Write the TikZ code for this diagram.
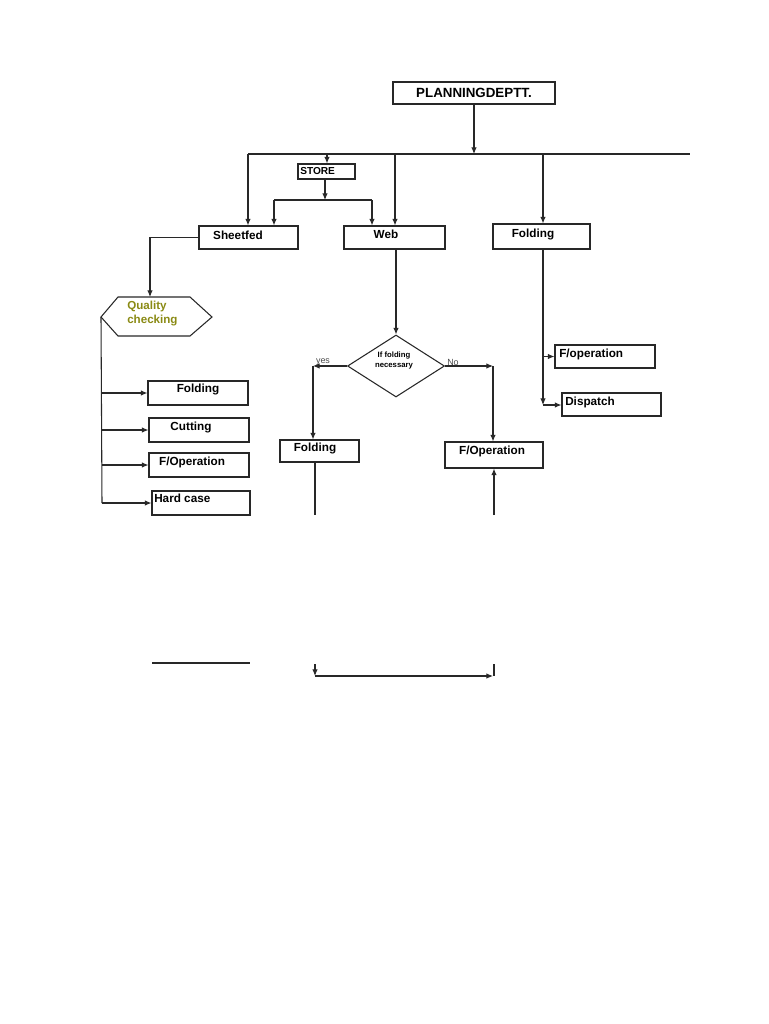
\documentclass[tikz,border=0pt]{standalone}
\usepackage{fontspec}
\setmainfont{Liberation Sans}
\usetikzlibrary{arrows.meta,shapes.geometric,calc}
\definecolor{qcolive}{RGB}{138,138,20}
\definecolor{ln}{RGB}{40,40,40}
\begin{document}
\begin{tikzpicture}[x=0.75pt,y=-0.75pt,
  bx/.style 2 args={draw=ln,line width=0.8pt,inner sep=0pt,minimum width=#1*0.75pt,minimum height=#2*0.75pt},
  lbl/.style={font=\fontsize{8.8}{10}\selectfont\bfseries,inner sep=0pt},
  arr/.style={draw=ln,line width=0.8pt,-{Latex[length=5pt,width=4.2pt]}},
  ln/.style={draw=ln,line width=0.8pt}]
\useasboundingbox (0,0) rectangle (768,1024);

% boxes
\node[bx={162}{22},font=\fontsize{10}{12}\selectfont\bfseries] (plan) at (474,93) {PLANNINGDEPTT.};
\node[bx={57}{15}] (store) at (326.5,171.5) {};
\node[lbl,anchor=west,font=\fontsize{7.6}{9}\selectfont\bfseries] (storeT) at (300,171.5) {STORE};
\node[bx={99}{23}] (sheet) at (248.5,237.5) {};
\node[lbl] (sheetT) at (238,235) {Sheetfed};
\node[bx={101}{23}] (web) at (394.5,237.5) {};
\node[lbl] (webT) at (386,234) {Web};
\node[bx={97}{25}] (fold) at (541.5,236.5) {};
\node[lbl] (foldT) at (533,234) {Folding};
\node[bx={100}{23}] (fopR) at (605,356.5) {};
\node[lbl,anchor=west] (fopRT) at (559,354) {F/operation};
\node[bx={99}{23}] (disp) at (611.5,404.5) {};
\node[lbl,anchor=west] (dispT) at (565,402) {Dispatch};

\node[bx={100}{24}] (foldL) at (198,393) {};
\node[lbl] (foldLT) at (198,389) {Folding};
\node[bx={100}{24}] (cut) at (199,430) {};
\node[lbl] (cutT) at (191,427) {Cutting};
\node[bx={100}{24}] (fopL) at (199,465) {};
\node[lbl] (fopLT) at (192,462) {F/Operation};
\node[bx={98}{24}] (hard) at (201,503) {};
\node[lbl,anchor=west] (hardT) at (154,498) {Hard case};

\node[bx={79}{22}] (foldM) at (319.5,451) {};
\node[lbl] (foldMT) at (315,448) {Folding};
\node[bx={98}{26}] (fopM) at (494,455) {};
\node[lbl] (fopMT) at (492,451) {F/Operation};

% hexagon
\coordinate (qcL) at (101,317);
\coordinate (qcT) at (150,297);
\draw[ln] (qcL) -- (118,297) -- (190,297) -- (212,317) -- (190,336) -- (118,336) -- cycle;
\node[lbl,anchor=west,align=left,text=qcolive,font=\fontsize{8.7}{9.8}\selectfont\bfseries] (qcT1) at (127,313.5) {Quality\\checking};

% diamond
\node[draw=ln,line width=0.8pt,diamond,minimum width=97*0.75pt,minimum height=62*0.75pt,inner sep=0pt] (dia) at (396,366) {};
\node[lbl,align=center,font=\fontsize{5.8}{7}\selectfont\bfseries] (diaT) at (394,360.5) {If folding\\necessary};
\node[inner sep=0pt,font=\fontsize{6.7}{8}\selectfont,text=black!70] (yesT) at (323,362) {yes};
\node[inner sep=0pt,font=\fontsize{6.7}{8}\selectfont,text=black!70] (noT) at (453,362) {No};

% bus
\coordinate (busL) at (248,154);
\coordinate (busR) at (690,154);
\draw[ln] (busL) -- (busR);
\draw[arr] (plan.south) -- (plan.south |- busL);
\draw[arr] (busL) -- (busL |- sheet.north);
\coordinate (stb) at (327,154);
\draw[arr] (stb) -- (stb |- store.north);
\coordinate (sj) at (325,200);
\coordinate (sjL) at (274,200);
\coordinate (sjR) at (372,200);
\draw[arr] (sj |- store.south) -- (sj);
\draw[ln] (sjL) -- (sjR);
\draw[arr] (sjL) -- (sjL |- sheet.north);
\draw[arr] (sjR) -- (sjR |- web.north);
\coordinate (wb) at (395,154);
\draw[arr] (wb) -- (wb |- web.north);
\coordinate (fb) at (543,154);
\draw[arr] (fb) -- (fb |- fold.north);

% sheetfed branch
\draw[arr] (sheet.west) -| (qcT);
\coordinate (qcB) at (102,503);
\draw[ln] (qcL) -- (qcB);
\draw[arr] (qcB |- foldL.west) -- (foldL.west);
\draw[arr] (qcB |- cut.west) -- (cut.west);
\draw[arr] (qcB |- fopL.west) -- (fopL.west);
\draw[arr] (qcB |- hard.west) -- (hard.west);

% web branch
\draw[arr] (dia.north |- web.south) -- (dia.north);
\coordinate (yc) at (313,366);
\coordinate (nc) at (493,366);
\draw[arr] (dia.west) -- (yc);
\draw[arr] (yc) -- (yc |- foldM.north);
\draw[arr] (dia.east) -- (nc);
\draw[arr] (nc) -- (nc |- fopM.north);
\coordinate (fm1) at (315,515);
\draw[ln] (fm1 |- foldM.south) -- (fm1);
\coordinate (fo1) at (494,515);
\draw[arr] (fo1) -- (fo1 |- fopM.south);

% folding branch
\coordinate (rj) at (543,405);
\draw[arr] (rj |- fold.south) -- (rj);
\draw[arr] (rj) -- (rj -| disp.west);
\draw[arr] (rj |- fopR.west) -- (fopR.west);

% bottom fragments
\coordinate (bl1) at (152,663);
\coordinate (bl2) at (250,663);
\draw[ln] (bl1) -- (bl2);
\coordinate (b1) at (315,664);
\coordinate (b2) at (315,676);
\coordinate (b3) at (493,676);
\coordinate (b4) at (494,664);
\draw[arr] (b1) -- (b2);
\draw[arr] (b2) -- (b3);
\draw[ln] (b4) -- (b4 |- b3);
\end{tikzpicture}
\end{document}
